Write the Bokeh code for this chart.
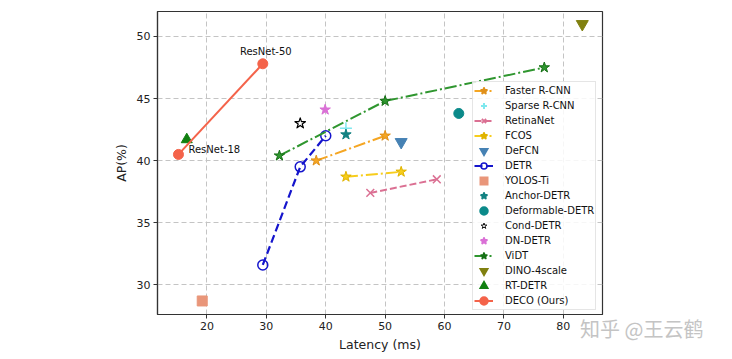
from bokeh.plotting import figure
from bokeh.models import FixedTicker, Range1d, Label, Legend, LegendItem, Div
from bokeh.layouts import column
from bokeh.embed import file_html
from bokeh.resources import INLINE

# ---------------- data ----------------
faster_rcnn_lat = [38.4, 50.0]
faster_rcnn_ap = [40.0, 42.0]
sparse_rcnn_lat = [43.4]
sparse_rcnn_ap = [42.6]
retinanet_lat = [47.5, 58.7]
retinanet_ap = [37.4, 38.5]
fcos_lat = [43.4, 52.7]
fcos_ap = [38.7, 39.1]
defcn_lat = [52.7]
defcn_ap = [41.5]
detr_lat = [29.4, 35.7, 40.0]
detr_ap = [31.6, 39.5, 42.0]
yolos_lat = [19.2]
yolos_ap = [28.7]
anchor_detr_lat = [43.4]
anchor_detr_ap = [42.1]
deform_detr_lat = [62.4]
deform_detr_ap = [43.8]
cond_detr_lat = [35.7]
cond_detr_ap = [43.0]
dn_detr_lat = [39.9]
dn_detr_ap = [44.1]
vidt_lat = [32.2, 50.0, 76.8]
vidt_ap = [40.4, 44.8, 47.5]
dino_lat = [83.2]
dino_ap = [51.0]
rtdetr_lat = [16.6]
rtdetr_ap = [41.7]
deco_lat = [15.2, 29.4]
deco_ap = [40.5, 47.8]
deco_names = ["ResNet-18", "ResNet-50"]

x_ticks = [20, 30, 40, 50, 60, 70, 80]
y_ticks = [30, 35, 40, 45, 50]
x_start, x_end = 11.67, 86.6
y_start, y_end = 27.61, 52.01

watermark = "知乎 @王云鹤"

FONT = "DejaVu Sans"

p = figure(width=732, height=359, output_backend="svg", toolbar_location=None,
           x_range=Range1d(x_start, x_end), y_range=Range1d(y_start, y_end),
           min_border_left=157, min_border_right=130, min_border_top=11,
           min_border_bottom=45)

p.background_fill_color = "white"
p.border_fill_color = "white"
p.outline_line_color = "#333333"
p.outline_line_width = 1.2

p.xaxis.ticker = FixedTicker(ticks=x_ticks)
p.yaxis.ticker = FixedTicker(ticks=y_ticks)
for ax in (p.xaxis[0], p.yaxis[0]):
    ax.axis_line_color = "#333333"
    ax.axis_line_width = 1.2
    ax.major_tick_line_color = "#333333"
    ax.major_tick_out = 4
    ax.major_tick_in = 0
    ax.minor_tick_out = 0
    ax.minor_tick_in = 0
    ax.major_label_text_font = FONT
    ax.major_label_text_font_size = "11px"
    ax.major_label_text_color = "#222222"
    ax.major_label_standoff = 3
    ax.axis_label_text_font = FONT
    ax.axis_label_text_font_size = "12.5px"
    ax.axis_label_text_font_style = "normal"
    ax.axis_label_text_color = "#222222"
p.xaxis.axis_label = "Latency (ms)"
p.yaxis.axis_label = "AP(%)"
p.xaxis.axis_label_standoff = 4
p.yaxis.axis_label_standoff = 5

p.grid.grid_line_color = "#c4c4c4"
p.grid.grid_line_dash = "5 3"
p.grid.grid_line_width = 1

DASHDOT = "12 3 2 3"
items = []


def series(label, x, y, marker, color, size, edge=None, hollow=False, lw=1.0,
           line_dash=None, line_width=2.0, legend_lw=None, legend_join="round"):
    """Plot one method; add a (hidden) fatter-outlined proxy marker for the legend."""
    edge = edge or color
    rends = []
    if line_dash is not None:
        rends.append(p.line(x, y, line_color=color, line_width=line_width, line_dash=line_dash))
    fill = None if hollow else color
    p.scatter(x, y, marker=marker, size=size, fill_color=fill, line_color=edge,
              line_width=lw, line_join="round")
    proxy = p.scatter(x, y, marker=marker, size=size, fill_color=fill, line_color=edge,
                      line_width=legend_lw if legend_lw is not None else lw,
                      line_join=legend_join, visible=False)
    rends.append(proxy)
    items.append(LegendItem(label=label, renderers=rends))


series("Faster R-CNN", faster_rcnn_lat, faster_rcnn_ap, "star", "#f5a623", 11,
       edge="#e0901a", line_dash=DASHDOT, legend_lw=2)
series("Sparse R-CNN", sparse_rcnn_lat, sparse_rcnn_ap, "cross", "#7fe8ee", 12, lw=1.5, legend_lw=2)
series("RetinaNet", retinanet_lat, retinanet_ap, "x", "#db7093", 11, lw=1.5,
       line_dash="7 3", legend_lw=1.8)
series("FCOS", fcos_lat, fcos_ap, "star", "#f7cd1c", 11, edge="#e0b400",
       line_dash=DASHDOT, legend_lw=2)
series("DeFCN", defcn_lat, defcn_ap, "inverted_triangle", "#4682b4", 12, legend_lw=2.5,
       legend_join="miter")
series("DETR", detr_lat, detr_ap, "circle", "#1515cc", 10, hollow=True, lw=1.5,
       line_dash="8 4", line_width=2.2, legend_lw=1.6)
series("YOLOS-Ti", yolos_lat, yolos_ap, "square", "#e9967a", 10, legend_lw=3,
       legend_join="miter")
series("Anchor-DETR", anchor_detr_lat, anchor_detr_ap, "star", "#138282", 11, legend_lw=2)
series("Deformable-DETR", deform_detr_lat, deform_detr_ap, "circle", "#0b8a8a", 10, legend_lw=3.5)
series("Cond-DETR", cond_detr_lat, cond_detr_ap, "star", "white", 11, edge="black", lw=1.2,
       legend_lw=0.9)
series("DN-DETR", dn_detr_lat, dn_detr_ap, "star", "#da70d6", 11, legend_lw=2)
series("ViDT", vidt_lat, vidt_ap, "star", "#2f962f", 11, edge="#156f15",
       line_dash=DASHDOT, legend_lw=1.8)
series("DINO-4scale", dino_lat, dino_ap, "inverted_triangle", "#808010", 12, legend_lw=2.5,
       legend_join="miter")
series("RT-DETR", rtdetr_lat, rtdetr_ap, "triangle", "#108010", 11, legend_lw=2.5,
       legend_join="miter")
series("DECO (Ours)", deco_lat, deco_ap, "circle", "#f4634a", 10, line_dash="solid", legend_lw=3.5)

# annotations
p.add_layout(Label(x=deco_lat[0], y=deco_ap[0], text=deco_names[0], x_offset=10, y_offset=5,
                   text_baseline="middle", text_align="left", text_font=FONT,
                   text_font_size="10px", text_color="#111111"))
p.add_layout(Label(x=deco_lat[1], y=deco_ap[1], text=deco_names[1], x_offset=3, y_offset=7,
                   text_baseline="bottom", text_align="center", text_font=FONT,
                   text_font_size="10px", text_color="#111111"))

# legend
leg = Legend(items=items, location=(315, 4))
leg.label_text_font = FONT
leg.label_text_font_size = "10px"
leg.label_text_color = "#111111"
leg.glyph_width = 19
leg.glyph_height = 15
leg.label_height = 15
leg.spacing = 0
leg.padding = 1
leg.margin = 0
leg.label_standoff = 12
leg.border_line_color = "#cccccc"
leg.border_line_width = 1
leg.background_fill_alpha = 0.85
p.add_layout(leg)

# watermark (sits below the plot frame, bottom right)
wm = Div(text=watermark, margin=(-42, 0, 0, 580),
         styles={"color": "#c4c4c4", "font-size": "20px", "line-height": "24px",
                 "font-family": "Noto Sans CJK SC", "white-space": "nowrap"})

layout = column(p, wm, spacing=0)
open("out.html", "w").write(file_html(layout, INLINE))
